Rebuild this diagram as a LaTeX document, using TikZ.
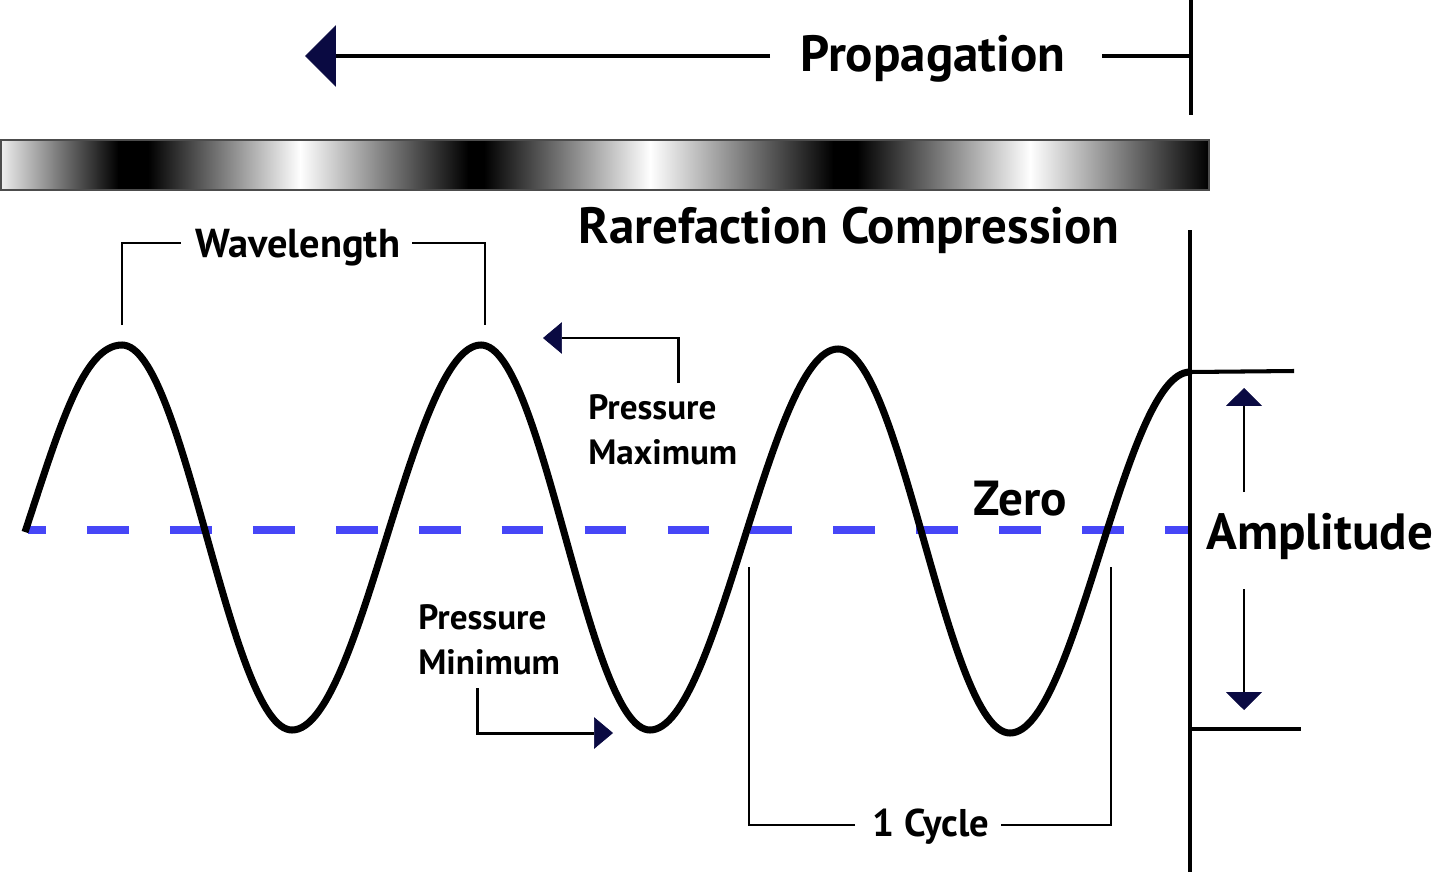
\documentclass[tikz,border=0pt]{standalone}
\usepackage{fontspec}
\setmainfont{PT Sans}
\usetikzlibrary{arrows.meta}
\definecolor{tipnavy}{HTML}{0A0A42}
\definecolor{zeroblue}{HTML}{4646F7}

\begin{document}
\begin{tikzpicture}[x=0.02cm, y=-0.02cm,
  every node/.style={inner sep=0pt, anchor=base west},
  lbl/.style={font=\bfseries\fontsize{#1}{#1}\selectfont},
  wave/.style={line width=4pt},
  zero line/.style={zeroblue, line width=4pt, dash pattern=on 23.8pt off 23.4pt, dash phase=13.6pt},
  bar/.style={line width=2.3pt},
  bracket/.style={line width=1.2pt},
  big arrow/.style={line width=2.8pt, -{Triangle[length=17.6pt, width=35pt, line width=0.4pt, fill=tipnavy, color=tipnavy]}},
  small arrow/.style={line width=1.7pt, -{Triangle[length=10.8pt, width=18pt, line width=0.4pt, fill=tipnavy, color=tipnavy]}},
  amp arrow/.style={line width=1.4pt, -{Triangle[length=10.2pt, width=20.4pt, line width=0.4pt, fill=tipnavy, color=tipnavy]}}]
\useasboundingbox (0,0) rectangle (1432,872);

\node[lbl=29pt] (prop) at (800,71) {Propagation};
\node[lbl=29pt] (rare) at (578,243) {Rarefaction Compression};
\node[lbl=23pt] (wavelen) at (195,257) {Wavelength};
\node[lbl=20pt] (pmax) at (588,419) {Pressure};
\node[lbl=20pt] (pmaxb) at (588,464) {Maximum};
\node[lbl=20pt] (pmin) at (418,629) {Pressure};
\node[lbl=20pt] (pminb) at (418,674) {Minimum};
\node[lbl=28pt] (zero) at (973,515) {Zero};
\node[lbl=29pt] (amp) at (1206,549) {Amplitude};
\node[lbl=22pt] (cycle) at (872,836) {1 Cycle};

\coordinate (propL) at (770,56);
\coordinate (propTip) at (305,56);
\coordinate (propR) at (1102,56);
\coordinate (topA) at (1191,0);
\coordinate (topB) at (1191,115);
\coordinate (vA) at (1190,230);
\coordinate (vB) at (1190,872);

\coordinate (w0) at (25,532);
\coordinate (e1) at (122,345);
\coordinate (e2) at (292,730);
\coordinate (e3) at (481,345);
\coordinate (e4) at (650,730);
\coordinate (e5) at (838,349);
\coordinate (e6) at (1010,733);
\coordinate (e7) at (1190,372);

\draw[big arrow] (propL) -- (propTip);
\draw[line width=2.8pt] (propR) -- (propR -| topA);
\draw[bar] (topA) -- (topB);

\foreach \xa/\xb/\ca/\cb in {0/118.5/white!94!black/black, 118/148.5/black/black, 148/300.5/black/white,
  300/468.5/white/black, 468/484.5/black/black, 484/650.5/black/white, 650/833.5/white/black,
  833/857.5/black/black, 857/1030.5/black/white, 1030/1209/white/black}
  \shade[left color=\ca, right color=\cb] (\xa,140) rectangle (\xb,190);
\draw[line width=0.8pt, black!70] (1,140) rectangle (1209,190);

\draw[zero line] (28,530) -- (vA |- 0,530);
\draw[wave] (w0) .. controls +(34,-103) and +(-39,0) .. (e1)
  .. controls +(62,0) and +(-62,0) .. (e2)
  .. controls +(69,0) and +(-69,0) .. (e3)
  .. controls +(62,0) and +(-62,0) .. (e4)
  .. controls +(68,0) and +(-68,0) .. (e5)
  .. controls +(63,0) and +(-63,0) .. (e6)
  .. controls +(66,0) and +(-66,0) .. (e7);

\draw[bar] (vA) -- (vB);
\draw[bar] (e7) -- (1294,371);
\draw[bar] (1190,729) -- (1301,729);
\draw[amp arrow] (1244,492) -- (1244,388);
\draw[amp arrow] (1244,589) -- (1244,710);

\draw[bracket] (122,325) |- (181,243);
\draw[bracket] (412,243) -| (485,325);
\draw[small arrow] (678,383) |- (543,338);
\draw[small arrow] (477,688) |- (613,733);
\draw[bracket] (855,825) -| (749,567);
\draw[bracket] (1001,825) -| (1111,567);
\end{tikzpicture}
\end{document}
